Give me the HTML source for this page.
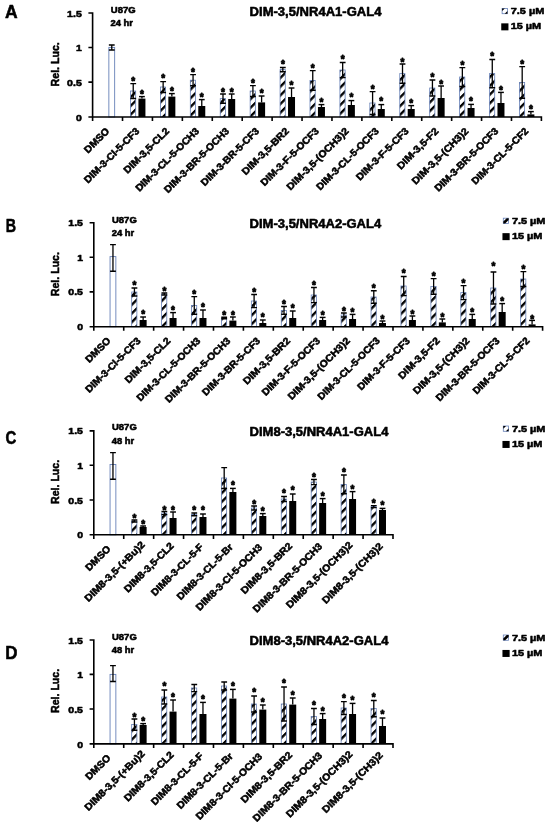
<!DOCTYPE html>
<html><head><meta charset="utf-8"><title>Figure</title>
<style>
html,body{margin:0;padding:0;background:#fff}
svg{display:block}
text{font-family:"Liberation Sans",sans-serif;font-weight:700;fill:#000;stroke:#000;stroke-width:.55;stroke-linejoin:round}
.ax{stroke:#000;stroke-width:1.6;fill:none}
.eb{stroke:#000;stroke-width:1.45;fill:none}
.ev{stroke:#000;stroke-width:1.3;fill:none}
.st{stroke:#000;stroke-width:.8}
</style></head><body>
<svg width="550" height="825" viewBox="0 0 550 825">
<defs>
<pattern id="h" patternUnits="userSpaceOnUse" width="6.15" height="6.15" patternTransform="rotate(45)"><rect width="6.15" height="6.15" fill="#fff"/><rect width="2.35" height="6.15" fill="#000"/></pattern>
</defs>
<rect width="550" height="825" fill="#fff"/>
<text x="5.00" y="18.30" font-size="17.5" text-anchor="start">A</text>
<text x="249.60" y="16.30" font-size="12.3" text-anchor="start" textLength="131.80" lengthAdjust="spacingAndGlyphs">DIM-3,5/NR4A1-GAL4</text>
<rect x="502.10" y="8.40" width="5.3" height="5.3" fill="#fff" stroke="#6781b8" stroke-width="0.8"/>
<path d="M502.10 8.40h2.7l-2.7 2.7zM507.40 13.70h-2.7l2.7 -2.7z" fill="#000"/>
<rect x="501.25" y="23.35" width="7.2" height="7.0" fill="#000"/>
<text x="510.70" y="14.20" font-size="9.5" text-anchor="start" textLength="33.56" lengthAdjust="spacingAndGlyphs">7.5 µM</text>
<text x="510.70" y="29.30" font-size="9.5" text-anchor="start" textLength="30.50" lengthAdjust="spacingAndGlyphs">15 µM</text>
<text x="110.80" y="13.20" font-size="8.9" text-anchor="start" textLength="24.76" lengthAdjust="spacingAndGlyphs">U87G</text>
<text x="110.60" y="26.30" font-size="8.9" text-anchor="start" textLength="22.39" lengthAdjust="spacingAndGlyphs">24 hr</text>
<text transform="translate(58.90,86.40) rotate(-90)" font-size="11.1" textLength="44.16" lengthAdjust="spacingAndGlyphs">Rel. Luc.</text>
<text x="81.80" y="16.65" font-size="9.5" text-anchor="end" textLength="14.67" lengthAdjust="spacingAndGlyphs">1.5</text>
<text x="81.80" y="51.10" font-size="9.5" text-anchor="end" textLength="5.81" lengthAdjust="spacingAndGlyphs">1</text>
<text x="81.80" y="85.75" font-size="9.5" text-anchor="end" textLength="14.67" lengthAdjust="spacingAndGlyphs">0.5</text>
<text x="81.80" y="120.60" font-size="9.5" text-anchor="end" textLength="5.81" lengthAdjust="spacingAndGlyphs">0</text>
<rect x="108.86" y="47.40" width="5.8" height="69.60" fill="#fff" stroke="#6781b8" stroke-width="0.9"/>
<path d="M111.76 45.00V50.00" class="ev"/><path d="M108.86 45.00h5.8M108.86 50.00h5.8" class="eb"/>
<rect x="130.48" y="91.00" width="5.2" height="26.00" fill="url(#h)" stroke="#6781b8" stroke-width="0.8"/>
<path d="M133.23 83.60V98.40" class="ev"/>
<path d="M130.33 83.60h5.8M130.33 98.40h5.8" class="eb"/>
<text x="133.23" y="84.85" font-size="10" text-anchor="middle" class="st">*</text>
<rect x="138.43" y="98.60" width="7.0" height="18.40" fill="#000"/>
<path d="M141.93 96.60V98.60" class="ev"/>
<path d="M139.03 96.60h5.8" class="eb"/>
<text x="141.93" y="98.25" font-size="10" text-anchor="middle" class="st">*</text>
<rect x="160.40" y="87.00" width="5.2" height="30.00" fill="url(#h)" stroke="#6781b8" stroke-width="0.8"/>
<path d="M163.15 81.60V92.40" class="ev"/>
<path d="M160.25 81.60h5.8M160.25 92.40h5.8" class="eb"/>
<text x="163.15" y="82.45" font-size="10" text-anchor="middle" class="st">*</text>
<rect x="168.35" y="96.60" width="7.0" height="20.40" fill="#000"/>
<path d="M171.85 93.60V96.60" class="ev"/>
<path d="M168.95 93.60h5.8" class="eb"/>
<text x="171.85" y="94.85" font-size="10" text-anchor="middle" class="st">*</text>
<rect x="190.32" y="80.20" width="5.2" height="36.80" fill="url(#h)" stroke="#6781b8" stroke-width="0.8"/>
<path d="M193.07 74.60V85.80" class="ev"/>
<path d="M190.17 74.60h5.8M190.17 85.80h5.8" class="eb"/>
<text x="193.07" y="76.15" font-size="10" text-anchor="middle" class="st">*</text>
<rect x="198.27" y="106.00" width="7.0" height="11.00" fill="#000"/>
<path d="M201.77 99.60V106.00" class="ev"/>
<path d="M198.87 99.60h5.8" class="eb"/>
<text x="201.77" y="101.25" font-size="10" text-anchor="middle" class="st">*</text>
<rect x="220.24" y="98.60" width="5.2" height="18.40" fill="url(#h)" stroke="#6781b8" stroke-width="0.8"/>
<path d="M222.99 94.00V103.20" class="ev"/>
<path d="M220.09 94.00h5.8M220.09 103.20h5.8" class="eb"/>
<text x="222.99" y="95.85" font-size="10" text-anchor="middle" class="st">*</text>
<rect x="228.19" y="99.00" width="7.0" height="18.00" fill="#000"/>
<path d="M231.69 94.00V99.00" class="ev"/>
<path d="M228.79 94.00h5.8" class="eb"/>
<text x="231.69" y="95.85" font-size="10" text-anchor="middle" class="st">*</text>
<rect x="250.16" y="91.00" width="5.2" height="26.00" fill="url(#h)" stroke="#6781b8" stroke-width="0.8"/>
<path d="M252.91 85.60V96.40" class="ev"/>
<path d="M250.01 85.60h5.8M250.01 96.40h5.8" class="eb"/>
<text x="252.91" y="87.25" font-size="10" text-anchor="middle" class="st">*</text>
<rect x="258.11" y="102.40" width="7.0" height="14.60" fill="#000"/>
<path d="M261.61 96.00V102.40" class="ev"/>
<path d="M258.71 96.00h5.8" class="eb"/>
<text x="261.61" y="97.45" font-size="10" text-anchor="middle" class="st">*</text>
<rect x="280.08" y="69.60" width="5.2" height="47.40" fill="url(#h)" stroke="#6781b8" stroke-width="0.8"/>
<path d="M282.83 67.40V71.80" class="ev"/>
<path d="M279.93 67.40h5.8M279.93 71.80h5.8" class="eb"/>
<text x="282.83" y="68.35" font-size="10" text-anchor="middle" class="st">*</text>
<rect x="288.03" y="97.00" width="7.0" height="20.00" fill="#000"/>
<path d="M291.53 88.00V97.00" class="ev"/>
<path d="M288.63 88.00h5.8" class="eb"/>
<text x="291.53" y="89.45" font-size="10" text-anchor="middle" class="st">*</text>
<rect x="310.00" y="80.40" width="5.2" height="36.60" fill="url(#h)" stroke="#6781b8" stroke-width="0.8"/>
<path d="M312.75 70.60V90.20" class="ev"/>
<path d="M309.85 70.60h5.8M309.85 90.20h5.8" class="eb"/>
<text x="312.75" y="71.85" font-size="10" text-anchor="middle" class="st">*</text>
<rect x="317.95" y="107.00" width="7.0" height="10.00" fill="#000"/>
<path d="M321.45 104.60V107.00" class="ev"/>
<path d="M318.55 104.60h5.8" class="eb"/>
<text x="321.45" y="106.45" font-size="10" text-anchor="middle" class="st">*</text>
<rect x="339.92" y="70.00" width="5.2" height="47.00" fill="url(#h)" stroke="#6781b8" stroke-width="0.8"/>
<path d="M342.67 62.40V77.60" class="ev"/>
<path d="M339.77 62.40h5.8M339.77 77.60h5.8" class="eb"/>
<text x="342.67" y="62.85" font-size="10" text-anchor="middle" class="st">*</text>
<rect x="347.87" y="105.00" width="7.0" height="12.00" fill="#000"/>
<path d="M351.37 100.60V105.00" class="ev"/>
<path d="M348.47 100.60h5.8" class="eb"/>
<text x="351.37" y="100.85" font-size="10" text-anchor="middle" class="st">*</text>
<rect x="369.84" y="103.00" width="5.2" height="14.00" fill="url(#h)" stroke="#6781b8" stroke-width="0.8"/>
<path d="M372.59 91.60V114.40" class="ev"/>
<path d="M369.69 91.60h5.8M369.69 114.40h5.8" class="eb"/>
<text x="372.59" y="93.25" font-size="10" text-anchor="middle" class="st">*</text>
<rect x="377.79" y="109.00" width="7.0" height="8.00" fill="#000"/>
<path d="M381.29 104.60V109.00" class="ev"/>
<path d="M378.39 104.60h5.8" class="eb"/>
<text x="381.29" y="105.45" font-size="10" text-anchor="middle" class="st">*</text>
<rect x="399.76" y="73.60" width="5.2" height="43.40" fill="url(#h)" stroke="#6781b8" stroke-width="0.8"/>
<path d="M402.51 64.00V83.20" class="ev"/>
<path d="M399.61 64.00h5.8M399.61 83.20h5.8" class="eb"/>
<text x="402.51" y="65.85" font-size="10" text-anchor="middle" class="st">*</text>
<rect x="407.71" y="109.00" width="7.0" height="8.00" fill="#000"/>
<path d="M411.21 105.60V109.00" class="ev"/>
<path d="M408.31 105.60h5.8" class="eb"/>
<text x="411.21" y="106.85" font-size="10" text-anchor="middle" class="st">*</text>
<rect x="429.68" y="88.00" width="5.2" height="29.00" fill="url(#h)" stroke="#6781b8" stroke-width="0.8"/>
<path d="M432.43 80.00V96.00" class="ev"/>
<path d="M429.53 80.00h5.8M429.53 96.00h5.8" class="eb"/>
<text x="432.43" y="81.45" font-size="10" text-anchor="middle" class="st">*</text>
<rect x="437.63" y="98.00" width="7.0" height="19.00" fill="#000"/>
<path d="M441.13 86.00V98.00" class="ev"/>
<path d="M438.23 86.00h5.8" class="eb"/>
<text x="441.13" y="87.85" font-size="10" text-anchor="middle" class="st">*</text>
<rect x="459.60" y="77.00" width="5.2" height="40.00" fill="url(#h)" stroke="#6781b8" stroke-width="0.8"/>
<path d="M462.35 67.60V86.40" class="ev"/>
<path d="M459.45 67.60h5.8M459.45 86.40h5.8" class="eb"/>
<text x="462.35" y="69.25" font-size="10" text-anchor="middle" class="st">*</text>
<rect x="467.55" y="108.00" width="7.0" height="9.00" fill="#000"/>
<path d="M471.05 104.40V108.00" class="ev"/>
<path d="M468.15 104.40h5.8" class="eb"/>
<text x="471.05" y="105.45" font-size="10" text-anchor="middle" class="st">*</text>
<rect x="489.52" y="73.60" width="5.2" height="43.40" fill="url(#h)" stroke="#6781b8" stroke-width="0.8"/>
<path d="M492.27 59.40V87.80" class="ev"/>
<path d="M489.37 59.40h5.8M489.37 87.80h5.8" class="eb"/>
<text x="492.27" y="60.45" font-size="10" text-anchor="middle" class="st">*</text>
<rect x="497.47" y="103.00" width="7.0" height="14.00" fill="#000"/>
<path d="M500.97 92.40V103.00" class="ev"/>
<path d="M498.07 92.40h5.8" class="eb"/>
<text x="500.97" y="93.85" font-size="10" text-anchor="middle" class="st">*</text>
<rect x="519.44" y="82.40" width="5.2" height="34.60" fill="url(#h)" stroke="#6781b8" stroke-width="0.8"/>
<path d="M522.19 66.60V98.20" class="ev"/>
<path d="M519.29 66.60h5.8M519.29 98.20h5.8" class="eb"/>
<text x="522.19" y="67.85" font-size="10" text-anchor="middle" class="st">*</text>
<rect x="527.39" y="114.40" width="7.0" height="2.60" fill="#000"/>
<path d="M530.89 111.60V114.40" class="ev"/>
<path d="M527.99 111.60h5.8" class="eb"/>
<text x="530.89" y="113.45" font-size="10" text-anchor="middle" class="st">*</text>
<path d="M92.60 12.25V121.10M88.40 117.00H542.20M88.40 82.15H92.60M88.40 47.50H92.60M88.40 13.05H92.60M122.52 117.00v4.1M152.44 117.00v4.1M182.36 117.00v4.1M212.28 117.00v4.1M242.20 117.00v4.1M272.12 117.00v4.1M302.04 117.00v4.1M331.96 117.00v4.1M361.88 117.00v4.1M391.80 117.00v4.1M421.72 117.00v4.1M451.64 117.00v4.1M481.56 117.00v4.1M511.48 117.00v4.1M541.40 117.00v4.1" class="ax"/>
<text transform="translate(110.06,131.70) rotate(-45)" font-size="9.8" text-anchor="end" textLength="31.04" lengthAdjust="spacingAndGlyphs">DMSO</text>
<text transform="translate(139.98,131.70) rotate(-45)" font-size="9.8" text-anchor="end" textLength="73.46" lengthAdjust="spacingAndGlyphs">DIM-3-Cl-5-CF3</text>
<text transform="translate(169.90,131.70) rotate(-45)" font-size="9.8" text-anchor="end" textLength="59.83" lengthAdjust="spacingAndGlyphs">DIM-3,5-CL2</text>
<text transform="translate(199.82,131.70) rotate(-45)" font-size="9.8" text-anchor="end" textLength="85.45" lengthAdjust="spacingAndGlyphs">DIM-3-CL-5-OCH3</text>
<text transform="translate(229.74,131.70) rotate(-45)" font-size="9.8" text-anchor="end" textLength="87.45" lengthAdjust="spacingAndGlyphs">DIM-3-BR-5-OCH3</text>
<text transform="translate(259.66,131.70) rotate(-45)" font-size="9.8" text-anchor="end" textLength="77.54" lengthAdjust="spacingAndGlyphs">DIM-3-BR-5-CF3</text>
<text transform="translate(289.58,131.70) rotate(-45)" font-size="9.8" text-anchor="end" textLength="61.83" lengthAdjust="spacingAndGlyphs">DIM-3,5-BR2</text>
<text transform="translate(319.50,131.70) rotate(-45)" font-size="9.8" text-anchor="end" textLength="77.68" lengthAdjust="spacingAndGlyphs">DIM-3-F-5-OCF3</text>
<text transform="translate(349.42,131.70) rotate(-45)" font-size="9.8" text-anchor="end" textLength="83.40" lengthAdjust="spacingAndGlyphs">DIM-3,5-(OCH3)2</text>
<text transform="translate(379.34,131.70) rotate(-45)" font-size="9.8" text-anchor="end" textLength="83.44" lengthAdjust="spacingAndGlyphs">DIM-3-CL-5-OCF3</text>
<text transform="translate(409.26,131.70) rotate(-45)" font-size="9.8" text-anchor="end" textLength="69.77" lengthAdjust="spacingAndGlyphs">DIM-3-F-5-CF3</text>
<text transform="translate(439.18,131.70) rotate(-45)" font-size="9.8" text-anchor="end" textLength="54.07" lengthAdjust="spacingAndGlyphs">DIM-3,5-F2</text>
<text transform="translate(469.10,131.70) rotate(-45)" font-size="9.8" text-anchor="end" textLength="75.49" lengthAdjust="spacingAndGlyphs">DIM-3,5-(CH3)2</text>
<text transform="translate(499.02,131.70) rotate(-45)" font-size="9.8" text-anchor="end" textLength="85.45" lengthAdjust="spacingAndGlyphs">DIM-3-BR-5-OCF3</text>
<text transform="translate(528.94,131.70) rotate(-45)" font-size="9.8" text-anchor="end" textLength="75.54" lengthAdjust="spacingAndGlyphs">DIM-3-CL-5-CF2</text>
<text x="5.80" y="231.60" font-size="17.5" text-anchor="start" textLength="10.30" lengthAdjust="spacingAndGlyphs">B</text>
<text x="249.60" y="227.70" font-size="12.3" text-anchor="start" textLength="131.60" lengthAdjust="spacingAndGlyphs">DIM-3,5/NR4A2-GAL4</text>
<rect x="503.30" y="218.20" width="5.3" height="5.3" fill="#fff" stroke="#6781b8" stroke-width="0.8"/>
<path d="M503.30 223.50v-1.9l3.40 -3.40h1.9v1.9l-3.40 3.40z" fill="#000"/>
<rect x="502.45" y="233.15" width="7.2" height="7.0" fill="#000"/>
<text x="511.90" y="224.00" font-size="9.5" text-anchor="start" textLength="33.56" lengthAdjust="spacingAndGlyphs">7.5 µM</text>
<text x="511.90" y="239.10" font-size="9.5" text-anchor="start" textLength="30.50" lengthAdjust="spacingAndGlyphs">15 µM</text>
<text x="112.00" y="222.60" font-size="8.9" text-anchor="start" textLength="24.76" lengthAdjust="spacingAndGlyphs">U87G</text>
<text x="111.80" y="235.90" font-size="8.9" text-anchor="start" textLength="22.39" lengthAdjust="spacingAndGlyphs">24 hr</text>
<text transform="translate(58.90,296.20) rotate(-90)" font-size="11.1" textLength="44.16" lengthAdjust="spacingAndGlyphs">Rel. Luc.</text>
<text x="83.00" y="226.35" font-size="9.5" text-anchor="end" textLength="14.67" lengthAdjust="spacingAndGlyphs">1.5</text>
<text x="83.00" y="260.80" font-size="9.5" text-anchor="end" textLength="5.81" lengthAdjust="spacingAndGlyphs">1</text>
<text x="83.00" y="295.45" font-size="9.5" text-anchor="end" textLength="14.67" lengthAdjust="spacingAndGlyphs">0.5</text>
<text x="83.00" y="330.30" font-size="9.5" text-anchor="end" textLength="5.81" lengthAdjust="spacingAndGlyphs">0</text>
<rect x="110.06" y="256.60" width="5.8" height="70.10" fill="#fff" stroke="#6781b8" stroke-width="0.9"/>
<path d="M112.96 244.60V271.20" class="ev"/><path d="M110.06 244.60h5.8M110.06 271.20h5.8" class="eb"/>
<rect x="131.68" y="292.00" width="5.2" height="34.70" fill="url(#h)" stroke="#6781b8" stroke-width="0.8"/>
<path d="M134.43 288.00V296.00" class="ev"/>
<path d="M131.53 288.00h5.8M131.53 296.00h5.8" class="eb"/>
<text x="134.43" y="289.45" font-size="10" text-anchor="middle" class="st">*</text>
<rect x="139.63" y="320.00" width="7.0" height="6.70" fill="#000"/>
<path d="M143.13 317.00V320.00" class="ev"/>
<path d="M140.23 317.00h5.8" class="eb"/>
<text x="143.13" y="318.45" font-size="10" text-anchor="middle" class="st">*</text>
<rect x="161.60" y="294.00" width="5.2" height="32.70" fill="url(#h)" stroke="#6781b8" stroke-width="0.8"/>
<path d="M164.35 293.00V295.00" class="ev"/>
<path d="M161.45 293.00h5.8M161.45 295.00h5.8" class="eb"/>
<text x="164.35" y="294.85" font-size="10" text-anchor="middle" class="st">*</text>
<rect x="169.55" y="318.00" width="7.0" height="8.70" fill="#000"/>
<path d="M173.05 312.60V318.00" class="ev"/>
<path d="M170.15 312.60h5.8" class="eb"/>
<text x="173.05" y="314.25" font-size="10" text-anchor="middle" class="st">*</text>
<rect x="191.52" y="305.40" width="5.2" height="21.30" fill="url(#h)" stroke="#6781b8" stroke-width="0.8"/>
<path d="M194.27 296.60V314.20" class="ev"/>
<path d="M191.37 296.60h5.8M191.37 314.20h5.8" class="eb"/>
<text x="194.27" y="298.45" font-size="10" text-anchor="middle" class="st">*</text>
<rect x="199.47" y="318.00" width="7.0" height="8.70" fill="#000"/>
<path d="M202.97 310.00V318.00" class="ev"/>
<path d="M200.07 310.00h5.8" class="eb"/>
<text x="202.97" y="311.25" font-size="10" text-anchor="middle" class="st">*</text>
<rect x="221.44" y="318.00" width="5.2" height="8.70" fill="url(#h)" stroke="#6781b8" stroke-width="0.8"/>
<path d="M224.19 317.30V318.70" class="ev"/>
<path d="M221.29 317.30h5.8M221.29 318.70h5.8" class="eb"/>
<text x="224.19" y="319.45" font-size="10" text-anchor="middle" class="st">*</text>
<rect x="229.39" y="320.60" width="7.0" height="6.10" fill="#000"/>
<path d="M232.89 317.00V320.60" class="ev"/>
<path d="M229.99 317.00h5.8" class="eb"/>
<text x="232.89" y="318.85" font-size="10" text-anchor="middle" class="st">*</text>
<rect x="251.36" y="301.00" width="5.2" height="25.70" fill="url(#h)" stroke="#6781b8" stroke-width="0.8"/>
<path d="M254.11 294.40V307.60" class="ev"/>
<path d="M251.21 294.40h5.8M251.21 307.60h5.8" class="eb"/>
<text x="254.11" y="295.85" font-size="10" text-anchor="middle" class="st">*</text>
<rect x="259.31" y="323.00" width="7.0" height="3.70" fill="#000"/>
<path d="M262.81 320.00V323.00" class="ev"/>
<path d="M259.91 320.00h5.8" class="eb"/>
<text x="262.81" y="320.85" font-size="10" text-anchor="middle" class="st">*</text>
<rect x="281.28" y="310.40" width="5.2" height="16.30" fill="url(#h)" stroke="#6781b8" stroke-width="0.8"/>
<path d="M284.03 306.50V314.30" class="ev"/>
<path d="M281.13 306.50h5.8M281.13 314.30h5.8" class="eb"/>
<text x="284.03" y="308.05" font-size="10" text-anchor="middle" class="st">*</text>
<rect x="289.23" y="318.00" width="7.0" height="8.70" fill="#000"/>
<path d="M292.73 311.00V318.00" class="ev"/>
<path d="M289.83 311.00h5.8" class="eb"/>
<text x="292.73" y="312.25" font-size="10" text-anchor="middle" class="st">*</text>
<rect x="311.20" y="295.00" width="5.2" height="31.70" fill="url(#h)" stroke="#6781b8" stroke-width="0.8"/>
<path d="M313.95 287.40V302.60" class="ev"/>
<path d="M311.05 287.40h5.8M311.05 302.60h5.8" class="eb"/>
<text x="313.95" y="288.85" font-size="10" text-anchor="middle" class="st">*</text>
<rect x="319.15" y="320.00" width="7.0" height="6.70" fill="#000"/>
<path d="M322.65 317.40V320.00" class="ev"/>
<path d="M319.75 317.40h5.8" class="eb"/>
<text x="322.65" y="318.85" font-size="10" text-anchor="middle" class="st">*</text>
<rect x="341.12" y="315.00" width="5.2" height="11.70" fill="url(#h)" stroke="#6781b8" stroke-width="0.8"/>
<path d="M343.87 313.00V317.00" class="ev"/>
<path d="M340.97 313.00h5.8M340.97 317.00h5.8" class="eb"/>
<text x="343.87" y="314.85" font-size="10" text-anchor="middle" class="st">*</text>
<rect x="349.07" y="319.00" width="7.0" height="7.70" fill="#000"/>
<path d="M352.57 314.40V319.00" class="ev"/>
<path d="M349.67 314.40h5.8" class="eb"/>
<text x="352.57" y="315.85" font-size="10" text-anchor="middle" class="st">*</text>
<rect x="371.04" y="297.00" width="5.2" height="29.70" fill="url(#h)" stroke="#6781b8" stroke-width="0.8"/>
<path d="M373.79 290.80V303.20" class="ev"/>
<path d="M370.89 290.80h5.8M370.89 303.20h5.8" class="eb"/>
<text x="373.79" y="292.25" font-size="10" text-anchor="middle" class="st">*</text>
<rect x="378.99" y="323.00" width="7.0" height="3.70" fill="#000"/>
<path d="M382.49 321.00V323.00" class="ev"/>
<path d="M379.59 321.00h5.8" class="eb"/>
<text x="382.49" y="322.85" font-size="10" text-anchor="middle" class="st">*</text>
<rect x="400.96" y="286.00" width="5.2" height="40.70" fill="url(#h)" stroke="#6781b8" stroke-width="0.8"/>
<path d="M403.71 276.40V295.60" class="ev"/>
<path d="M400.81 276.40h5.8M400.81 295.60h5.8" class="eb"/>
<text x="403.71" y="277.45" font-size="10" text-anchor="middle" class="st">*</text>
<rect x="408.91" y="320.00" width="7.0" height="6.70" fill="#000"/>
<path d="M412.41 316.00V320.00" class="ev"/>
<path d="M409.51 316.00h5.8" class="eb"/>
<text x="412.41" y="317.85" font-size="10" text-anchor="middle" class="st">*</text>
<rect x="430.88" y="286.40" width="5.2" height="40.30" fill="url(#h)" stroke="#6781b8" stroke-width="0.8"/>
<path d="M433.63 278.60V294.20" class="ev"/>
<path d="M430.73 278.60h5.8M430.73 294.20h5.8" class="eb"/>
<text x="433.63" y="279.85" font-size="10" text-anchor="middle" class="st">*</text>
<rect x="438.83" y="322.40" width="7.0" height="4.30" fill="#000"/>
<path d="M442.33 319.00V322.40" class="ev"/>
<path d="M439.43 319.00h5.8" class="eb"/>
<text x="442.33" y="320.85" font-size="10" text-anchor="middle" class="st">*</text>
<rect x="460.80" y="292.60" width="5.2" height="34.10" fill="url(#h)" stroke="#6781b8" stroke-width="0.8"/>
<path d="M463.55 285.60V299.60" class="ev"/>
<path d="M460.65 285.60h5.8M460.65 299.60h5.8" class="eb"/>
<text x="463.55" y="287.35" font-size="10" text-anchor="middle" class="st">*</text>
<rect x="468.75" y="319.00" width="7.0" height="7.70" fill="#000"/>
<path d="M472.25 314.40V319.00" class="ev"/>
<path d="M469.35 314.40h5.8" class="eb"/>
<text x="472.25" y="315.85" font-size="10" text-anchor="middle" class="st">*</text>
<rect x="490.72" y="288.00" width="5.2" height="38.70" fill="url(#h)" stroke="#6781b8" stroke-width="0.8"/>
<path d="M493.47 272.00V304.00" class="ev"/>
<path d="M490.57 272.00h5.8M490.57 304.00h5.8" class="eb"/>
<text x="493.47" y="270.25" font-size="10" text-anchor="middle" class="st">*</text>
<rect x="498.67" y="312.00" width="7.0" height="14.70" fill="#000"/>
<path d="M502.17 303.60V312.00" class="ev"/>
<path d="M499.27 303.60h5.8" class="eb"/>
<text x="502.17" y="305.25" font-size="10" text-anchor="middle" class="st">*</text>
<rect x="520.64" y="279.00" width="5.2" height="47.70" fill="url(#h)" stroke="#6781b8" stroke-width="0.8"/>
<path d="M523.39 271.60V286.40" class="ev"/>
<path d="M520.49 271.60h5.8M520.49 286.40h5.8" class="eb"/>
<text x="523.39" y="272.85" font-size="10" text-anchor="middle" class="st">*</text>
<rect x="528.59" y="324.40" width="7.0" height="2.30" fill="#000"/>
<path d="M532.09 320.40V324.40" class="ev"/>
<path d="M529.19 320.40h5.8" class="eb"/>
<text x="532.09" y="322.85" font-size="10" text-anchor="middle" class="st">*</text>
<path d="M93.80 221.95V330.80M89.60 326.70H543.40M89.60 291.85H93.80M89.60 257.20H93.80M89.60 222.75H93.80M123.72 326.70v4.1M153.64 326.70v4.1M183.56 326.70v4.1M213.48 326.70v4.1M243.40 326.70v4.1M273.32 326.70v4.1M303.24 326.70v4.1M333.16 326.70v4.1M363.08 326.70v4.1M393.00 326.70v4.1M422.92 326.70v4.1M452.84 326.70v4.1M482.76 326.70v4.1M512.68 326.70v4.1M542.60 326.70v4.1" class="ax"/>
<text transform="translate(111.26,341.40) rotate(-45)" font-size="9.8" text-anchor="end" textLength="31.04" lengthAdjust="spacingAndGlyphs">DMSO</text>
<text transform="translate(141.18,341.40) rotate(-45)" font-size="9.8" text-anchor="end" textLength="73.46" lengthAdjust="spacingAndGlyphs">DIM-3-Cl-5-CF3</text>
<text transform="translate(171.10,341.40) rotate(-45)" font-size="9.8" text-anchor="end" textLength="59.83" lengthAdjust="spacingAndGlyphs">DIM-3,5-CL2</text>
<text transform="translate(201.02,341.40) rotate(-45)" font-size="9.8" text-anchor="end" textLength="85.45" lengthAdjust="spacingAndGlyphs">DIM-3-CL-5-OCH3</text>
<text transform="translate(230.94,341.40) rotate(-45)" font-size="9.8" text-anchor="end" textLength="87.45" lengthAdjust="spacingAndGlyphs">DIM-3-BR-5-OCH3</text>
<text transform="translate(260.86,341.40) rotate(-45)" font-size="9.8" text-anchor="end" textLength="77.54" lengthAdjust="spacingAndGlyphs">DIM-3-BR-5-CF3</text>
<text transform="translate(290.78,341.40) rotate(-45)" font-size="9.8" text-anchor="end" textLength="61.83" lengthAdjust="spacingAndGlyphs">DIM-3,5-BR2</text>
<text transform="translate(320.70,341.40) rotate(-45)" font-size="9.8" text-anchor="end" textLength="77.68" lengthAdjust="spacingAndGlyphs">DIM-3-F-5-OCF3</text>
<text transform="translate(350.62,341.40) rotate(-45)" font-size="9.8" text-anchor="end" textLength="83.40" lengthAdjust="spacingAndGlyphs">DIM-3,5-(OCH3)2</text>
<text transform="translate(380.54,341.40) rotate(-45)" font-size="9.8" text-anchor="end" textLength="83.44" lengthAdjust="spacingAndGlyphs">DIM-3-CL-5-OCF3</text>
<text transform="translate(410.46,341.40) rotate(-45)" font-size="9.8" text-anchor="end" textLength="69.77" lengthAdjust="spacingAndGlyphs">DIM-3-F-5-CF3</text>
<text transform="translate(440.38,341.40) rotate(-45)" font-size="9.8" text-anchor="end" textLength="54.07" lengthAdjust="spacingAndGlyphs">DIM-3,5-F2</text>
<text transform="translate(470.30,341.40) rotate(-45)" font-size="9.8" text-anchor="end" textLength="75.49" lengthAdjust="spacingAndGlyphs">DIM-3,5-(CH3)2</text>
<text transform="translate(500.22,341.40) rotate(-45)" font-size="9.8" text-anchor="end" textLength="85.45" lengthAdjust="spacingAndGlyphs">DIM-3-BR-5-OCF3</text>
<text transform="translate(530.14,341.40) rotate(-45)" font-size="9.8" text-anchor="end" textLength="75.54" lengthAdjust="spacingAndGlyphs">DIM-3-CL-5-CF2</text>
<text x="5.40" y="444.20" font-size="17.5" text-anchor="start" textLength="10.80" lengthAdjust="spacingAndGlyphs">C</text>
<text x="249.60" y="435.50" font-size="12.3" text-anchor="start" textLength="138.80" lengthAdjust="spacingAndGlyphs">DIM8-3,5/NR4A1-GAL4</text>
<rect x="503.30" y="426.00" width="5.3" height="5.3" fill="#fff" stroke="#6781b8" stroke-width="0.8"/>
<path d="M503.30 426.00h2.7l-2.7 2.7zM508.60 431.30h-2.7l2.7 -2.7z" fill="#000"/>
<rect x="502.45" y="440.95" width="7.2" height="7.0" fill="#000"/>
<text x="511.90" y="431.80" font-size="9.5" text-anchor="start" textLength="33.56" lengthAdjust="spacingAndGlyphs">7.5 µM</text>
<text x="511.90" y="446.90" font-size="9.5" text-anchor="start" textLength="30.50" lengthAdjust="spacingAndGlyphs">15 µM</text>
<text x="112.00" y="429.80" font-size="8.9" text-anchor="start" textLength="24.76" lengthAdjust="spacingAndGlyphs">U87G</text>
<text x="111.80" y="443.80" font-size="8.9" text-anchor="start" textLength="22.39" lengthAdjust="spacingAndGlyphs">48 hr</text>
<text transform="translate(58.90,504.00) rotate(-90)" font-size="11.1" textLength="44.16" lengthAdjust="spacingAndGlyphs">Rel. Luc.</text>
<text x="83.00" y="434.45" font-size="9.5" text-anchor="end" textLength="14.67" lengthAdjust="spacingAndGlyphs">1.5</text>
<text x="83.00" y="468.90" font-size="9.5" text-anchor="end" textLength="5.81" lengthAdjust="spacingAndGlyphs">1</text>
<text x="83.00" y="503.55" font-size="9.5" text-anchor="end" textLength="14.67" lengthAdjust="spacingAndGlyphs">0.5</text>
<text x="83.00" y="538.40" font-size="9.5" text-anchor="end" textLength="5.81" lengthAdjust="spacingAndGlyphs">0</text>
<rect x="110.06" y="464.50" width="5.8" height="70.30" fill="#fff" stroke="#6781b8" stroke-width="0.9"/>
<path d="M112.96 452.60V479.20" class="ev"/><path d="M110.06 452.60h5.8M110.06 479.20h5.8" class="eb"/>
<rect x="131.68" y="521.00" width="5.2" height="13.80" fill="url(#h)" stroke="#6781b8" stroke-width="0.8"/>
<path d="M134.43 520.00V522.00" class="ev"/>
<path d="M131.53 520.00h5.8M131.53 522.00h5.8" class="eb"/>
<text x="134.43" y="522.25" font-size="10" text-anchor="middle" class="st">*</text>
<rect x="139.63" y="527.00" width="7.0" height="7.80" fill="#000"/>
<path d="M143.13 526.00V527.00" class="ev"/>
<path d="M140.23 526.00h5.8" class="eb"/>
<text x="143.13" y="527.85" font-size="10" text-anchor="middle" class="st">*</text>
<rect x="161.60" y="513.00" width="5.2" height="21.80" fill="url(#h)" stroke="#6781b8" stroke-width="0.8"/>
<path d="M164.35 511.40V514.60" class="ev"/>
<path d="M161.45 511.40h5.8M161.45 514.60h5.8" class="eb"/>
<text x="164.35" y="513.85" font-size="10" text-anchor="middle" class="st">*</text>
<rect x="169.55" y="518.00" width="7.0" height="16.80" fill="#000"/>
<path d="M173.05 512.00V518.00" class="ev"/>
<path d="M170.15 512.00h5.8" class="eb"/>
<text x="173.05" y="513.85" font-size="10" text-anchor="middle" class="st">*</text>
<rect x="191.52" y="514.40" width="5.2" height="20.40" fill="url(#h)" stroke="#6781b8" stroke-width="0.8"/>
<path d="M194.27 513.00V515.80" class="ev"/>
<path d="M191.37 513.00h5.8M191.37 515.80h5.8" class="eb"/>
<text x="194.27" y="514.45" font-size="10" text-anchor="middle" class="st">*</text>
<rect x="199.47" y="517.00" width="7.0" height="17.80" fill="#000"/>
<path d="M202.97 514.00V517.00" class="ev"/>
<path d="M200.07 514.00h5.8" class="eb"/>
<text x="202.97" y="514.45" font-size="10" text-anchor="middle" class="st">*</text>
<rect x="221.44" y="478.00" width="5.2" height="56.80" fill="url(#h)" stroke="#6781b8" stroke-width="0.8"/>
<path d="M224.19 467.60V488.40" class="ev"/>
<path d="M221.29 467.60h5.8M221.29 488.40h5.8" class="eb"/>
<rect x="229.39" y="492.00" width="7.0" height="42.80" fill="#000"/>
<path d="M232.89 488.40V492.00" class="ev"/>
<path d="M229.99 488.40h5.8" class="eb"/>
<text x="232.89" y="488.85" font-size="10" text-anchor="middle" class="st">*</text>
<rect x="251.36" y="508.00" width="5.2" height="26.80" fill="url(#h)" stroke="#6781b8" stroke-width="0.8"/>
<path d="M254.11 506.00V510.00" class="ev"/>
<path d="M251.21 506.00h5.8M251.21 510.00h5.8" class="eb"/>
<text x="254.11" y="507.85" font-size="10" text-anchor="middle" class="st">*</text>
<rect x="259.31" y="516.00" width="7.0" height="18.80" fill="#000"/>
<path d="M262.81 513.60V516.00" class="ev"/>
<path d="M259.91 513.60h5.8" class="eb"/>
<text x="262.81" y="515.25" font-size="10" text-anchor="middle" class="st">*</text>
<rect x="281.28" y="499.00" width="5.2" height="35.80" fill="url(#h)" stroke="#6781b8" stroke-width="0.8"/>
<path d="M284.03 496.40V501.60" class="ev"/>
<path d="M281.13 496.40h5.8M281.13 501.60h5.8" class="eb"/>
<text x="284.03" y="497.45" font-size="10" text-anchor="middle" class="st">*</text>
<rect x="289.23" y="501.00" width="7.0" height="33.80" fill="#000"/>
<path d="M292.73 494.00V501.00" class="ev"/>
<path d="M289.83 494.00h5.8" class="eb"/>
<text x="292.73" y="494.45" font-size="10" text-anchor="middle" class="st">*</text>
<rect x="311.20" y="482.00" width="5.2" height="52.80" fill="url(#h)" stroke="#6781b8" stroke-width="0.8"/>
<path d="M313.95 479.40V484.60" class="ev"/>
<path d="M311.05 479.40h5.8M311.05 484.60h5.8" class="eb"/>
<text x="313.95" y="480.85" font-size="10" text-anchor="middle" class="st">*</text>
<rect x="319.15" y="503.00" width="7.0" height="31.80" fill="#000"/>
<path d="M322.65 498.60V503.00" class="ev"/>
<path d="M319.75 498.60h5.8" class="eb"/>
<text x="322.65" y="499.85" font-size="10" text-anchor="middle" class="st">*</text>
<rect x="341.12" y="484.40" width="5.2" height="50.40" fill="url(#h)" stroke="#6781b8" stroke-width="0.8"/>
<path d="M343.87 475.00V493.80" class="ev"/>
<path d="M340.97 475.00h5.8M340.97 493.80h5.8" class="eb"/>
<text x="343.87" y="475.85" font-size="10" text-anchor="middle" class="st">*</text>
<rect x="349.07" y="499.00" width="7.0" height="35.80" fill="#000"/>
<path d="M352.57 491.60V499.00" class="ev"/>
<path d="M349.67 491.60h5.8" class="eb"/>
<text x="352.57" y="492.85" font-size="10" text-anchor="middle" class="st">*</text>
<rect x="371.04" y="506.60" width="5.2" height="28.20" fill="url(#h)" stroke="#6781b8" stroke-width="0.8"/>
<path d="M373.79 505.60V507.60" class="ev"/>
<path d="M370.89 505.60h5.8M370.89 507.60h5.8" class="eb"/>
<text x="373.79" y="507.25" font-size="10" text-anchor="middle" class="st">*</text>
<rect x="378.99" y="510.00" width="7.0" height="24.80" fill="#000"/>
<path d="M382.49 508.40V510.00" class="ev"/>
<path d="M379.59 508.40h5.8" class="eb"/>
<text x="382.49" y="509.45" font-size="10" text-anchor="middle" class="st">*</text>
<path d="M93.80 430.05V538.90M89.60 534.80H393.80M89.60 499.95H93.80M89.60 465.30H93.80M89.60 430.85H93.80M123.72 534.80v4.1M153.64 534.80v4.1M183.56 534.80v4.1M213.48 534.80v4.1M243.40 534.80v4.1M273.32 534.80v4.1M303.24 534.80v4.1M333.16 534.80v4.1M363.08 534.80v4.1M393.00 534.80v4.1" class="ax"/>
<text transform="translate(111.26,549.50) rotate(-45)" font-size="9.8" text-anchor="end" textLength="31.04" lengthAdjust="spacingAndGlyphs">DMSO</text>
<text transform="translate(145.48,545.20) rotate(-45)" font-size="9.8" text-anchor="end" textLength="80.59" lengthAdjust="spacingAndGlyphs">DIM8-3,5-(+Bu)2</text>
<text transform="translate(174.40,546.40) rotate(-45)" font-size="9.8" text-anchor="end" textLength="65.77" lengthAdjust="spacingAndGlyphs">DIM8-3,5-CL2</text>
<text transform="translate(204.02,547.50) rotate(-45)" font-size="9.8" text-anchor="end" textLength="69.35" lengthAdjust="spacingAndGlyphs">DIM8-3-CL-5-F</text>
<text transform="translate(233.54,547.70) rotate(-45)" font-size="9.8" text-anchor="end" textLength="74.68" lengthAdjust="spacingAndGlyphs">DIM8-3-CL-5-Br</text>
<text transform="translate(262.86,548.00) rotate(-45)" font-size="9.8" text-anchor="end" textLength="89.31" lengthAdjust="spacingAndGlyphs">DIM8-3-Cl-5-OCH3</text>
<text transform="translate(292.78,546.50) rotate(-45)" font-size="9.8" text-anchor="end" textLength="67.77" lengthAdjust="spacingAndGlyphs">DIM8-3,5-BR2</text>
<text transform="translate(322.90,547.00) rotate(-45)" font-size="9.8" text-anchor="end" textLength="93.38" lengthAdjust="spacingAndGlyphs">DIM8-3-BR-5-OCH3</text>
<text transform="translate(353.22,545.70) rotate(-45)" font-size="9.8" text-anchor="end" textLength="89.33" lengthAdjust="spacingAndGlyphs">DIM8-3,5-(OCH3)2</text>
<text transform="translate(383.54,546.80) rotate(-45)" font-size="9.8" text-anchor="end" textLength="81.42" lengthAdjust="spacingAndGlyphs">DIM8-3,5-(CH3)2</text>
<text x="5.20" y="658.60" font-size="17.5" text-anchor="start" textLength="12.20" lengthAdjust="spacingAndGlyphs">D</text>
<text x="249.60" y="644.60" font-size="12.3" text-anchor="start" textLength="138.80" lengthAdjust="spacingAndGlyphs">DIM8-3,5/NR4A2-GAL4</text>
<rect x="503.30" y="635.00" width="5.3" height="5.3" fill="#fff" stroke="#6781b8" stroke-width="0.8"/>
<path d="M503.30 640.30v-1.9l3.40 -3.40h1.9v1.9l-3.40 3.40z" fill="#000"/>
<rect x="502.45" y="649.95" width="7.2" height="7.0" fill="#000"/>
<text x="511.90" y="640.80" font-size="9.5" text-anchor="start" textLength="33.56" lengthAdjust="spacingAndGlyphs">7.5 µM</text>
<text x="511.90" y="655.90" font-size="9.5" text-anchor="start" textLength="30.50" lengthAdjust="spacingAndGlyphs">15 µM</text>
<text x="112.00" y="639.70" font-size="8.9" text-anchor="start" textLength="24.76" lengthAdjust="spacingAndGlyphs">U87G</text>
<text x="111.80" y="653.20" font-size="8.9" text-anchor="start" textLength="22.39" lengthAdjust="spacingAndGlyphs">48 hr</text>
<text transform="translate(58.90,713.00) rotate(-90)" font-size="11.1" textLength="44.16" lengthAdjust="spacingAndGlyphs">Rel. Luc.</text>
<text x="83.00" y="643.55" font-size="9.5" text-anchor="end" textLength="14.67" lengthAdjust="spacingAndGlyphs">1.5</text>
<text x="83.00" y="678.00" font-size="9.5" text-anchor="end" textLength="5.81" lengthAdjust="spacingAndGlyphs">1</text>
<text x="83.00" y="712.65" font-size="9.5" text-anchor="end" textLength="14.67" lengthAdjust="spacingAndGlyphs">0.5</text>
<text x="83.00" y="747.50" font-size="9.5" text-anchor="end" textLength="5.81" lengthAdjust="spacingAndGlyphs">0</text>
<rect x="110.06" y="674.40" width="5.8" height="69.50" fill="#fff" stroke="#6781b8" stroke-width="0.9"/>
<path d="M112.96 665.60V681.50" class="ev"/><path d="M110.06 665.60h5.8M110.06 681.50h5.8" class="eb"/>
<rect x="131.68" y="724.60" width="5.2" height="19.30" fill="url(#h)" stroke="#6781b8" stroke-width="0.8"/>
<path d="M134.43 719.00V730.20" class="ev"/>
<path d="M131.53 719.00h5.8M131.53 730.20h5.8" class="eb"/>
<text x="134.43" y="720.85" font-size="10" text-anchor="middle" class="st">*</text>
<rect x="139.63" y="725.00" width="7.0" height="18.90" fill="#000"/>
<path d="M143.13 723.60V725.00" class="ev"/>
<path d="M140.23 723.60h5.8" class="eb"/>
<text x="143.13" y="724.85" font-size="10" text-anchor="middle" class="st">*</text>
<rect x="161.60" y="697.00" width="5.2" height="46.90" fill="url(#h)" stroke="#6781b8" stroke-width="0.8"/>
<path d="M164.35 690.00V704.00" class="ev"/>
<path d="M161.45 690.00h5.8M161.45 704.00h5.8" class="eb"/>
<text x="164.35" y="690.45" font-size="10" text-anchor="middle" class="st">*</text>
<rect x="169.55" y="711.60" width="7.0" height="32.30" fill="#000"/>
<path d="M173.05 700.00V711.60" class="ev"/>
<path d="M170.15 700.00h5.8" class="eb"/>
<text x="173.05" y="701.45" font-size="10" text-anchor="middle" class="st">*</text>
<rect x="191.52" y="688.00" width="5.2" height="55.90" fill="url(#h)" stroke="#6781b8" stroke-width="0.8"/>
<path d="M194.27 684.40V691.60" class="ev"/>
<path d="M191.37 684.40h5.8M191.37 691.60h5.8" class="eb"/>
<rect x="199.47" y="714.00" width="7.0" height="29.90" fill="#000"/>
<path d="M202.97 702.40V714.00" class="ev"/>
<path d="M200.07 702.40h5.8" class="eb"/>
<text x="202.97" y="703.45" font-size="10" text-anchor="middle" class="st">*</text>
<rect x="221.44" y="686.00" width="5.2" height="57.90" fill="url(#h)" stroke="#6781b8" stroke-width="0.8"/>
<path d="M224.19 682.00V690.00" class="ev"/>
<path d="M221.29 682.00h5.8M221.29 690.00h5.8" class="eb"/>
<rect x="229.39" y="698.60" width="7.0" height="45.30" fill="#000"/>
<path d="M232.89 689.40V698.60" class="ev"/>
<path d="M229.99 689.40h5.8" class="eb"/>
<text x="232.89" y="690.45" font-size="10" text-anchor="middle" class="st">*</text>
<rect x="251.36" y="704.00" width="5.2" height="39.90" fill="url(#h)" stroke="#6781b8" stroke-width="0.8"/>
<path d="M254.11 696.00V712.00" class="ev"/>
<path d="M251.21 696.00h5.8M251.21 712.00h5.8" class="eb"/>
<text x="254.11" y="696.45" font-size="10" text-anchor="middle" class="st">*</text>
<rect x="259.31" y="709.60" width="7.0" height="34.30" fill="#000"/>
<path d="M262.81 705.00V709.60" class="ev"/>
<path d="M259.91 705.00h5.8" class="eb"/>
<text x="262.81" y="705.85" font-size="10" text-anchor="middle" class="st">*</text>
<rect x="281.28" y="704.00" width="5.2" height="39.90" fill="url(#h)" stroke="#6781b8" stroke-width="0.8"/>
<path d="M284.03 687.00V721.00" class="ev"/>
<path d="M281.13 687.00h5.8M281.13 721.00h5.8" class="eb"/>
<text x="284.03" y="687.45" font-size="10" text-anchor="middle" class="st">*</text>
<rect x="289.23" y="704.60" width="7.0" height="39.30" fill="#000"/>
<path d="M292.73 698.00V704.60" class="ev"/>
<path d="M289.83 698.00h5.8" class="eb"/>
<text x="292.73" y="698.85" font-size="10" text-anchor="middle" class="st">*</text>
<rect x="311.20" y="716.40" width="5.2" height="27.50" fill="url(#h)" stroke="#6781b8" stroke-width="0.8"/>
<path d="M313.95 708.40V724.40" class="ev"/>
<path d="M311.05 708.40h5.8M311.05 724.40h5.8" class="eb"/>
<text x="313.95" y="709.45" font-size="10" text-anchor="middle" class="st">*</text>
<rect x="319.15" y="719.00" width="7.0" height="24.90" fill="#000"/>
<path d="M322.65 713.60V719.00" class="ev"/>
<path d="M319.75 713.60h5.8" class="eb"/>
<text x="322.65" y="714.85" font-size="10" text-anchor="middle" class="st">*</text>
<rect x="341.12" y="708.00" width="5.2" height="35.90" fill="url(#h)" stroke="#6781b8" stroke-width="0.8"/>
<path d="M343.87 701.60V714.40" class="ev"/>
<path d="M340.97 701.60h5.8M340.97 714.40h5.8" class="eb"/>
<text x="343.87" y="702.25" font-size="10" text-anchor="middle" class="st">*</text>
<rect x="349.07" y="714.00" width="7.0" height="29.90" fill="#000"/>
<path d="M352.57 703.40V714.00" class="ev"/>
<path d="M349.67 703.40h5.8" class="eb"/>
<text x="352.57" y="703.85" font-size="10" text-anchor="middle" class="st">*</text>
<rect x="371.04" y="708.60" width="5.2" height="35.30" fill="url(#h)" stroke="#6781b8" stroke-width="0.8"/>
<path d="M373.79 700.40V716.80" class="ev"/>
<path d="M370.89 700.40h5.8M370.89 716.80h5.8" class="eb"/>
<text x="373.79" y="701.45" font-size="10" text-anchor="middle" class="st">*</text>
<rect x="378.99" y="726.00" width="7.0" height="17.90" fill="#000"/>
<path d="M382.49 718.00V726.00" class="ev"/>
<path d="M379.59 718.00h5.8" class="eb"/>
<text x="382.49" y="718.25" font-size="10" text-anchor="middle" class="st">*</text>
<path d="M93.80 639.15V748.00M89.60 743.90H393.80M89.60 709.05H93.80M89.60 674.40H93.80M89.60 639.95H93.80M123.72 743.90v4.1M153.64 743.90v4.1M183.56 743.90v4.1M213.48 743.90v4.1M243.40 743.90v4.1M273.32 743.90v4.1M303.24 743.90v4.1M333.16 743.90v4.1M363.08 743.90v4.1M393.00 743.90v4.1" class="ax"/>
<text transform="translate(111.26,758.60) rotate(-45)" font-size="9.8" text-anchor="end" textLength="31.04" lengthAdjust="spacingAndGlyphs">DMSO</text>
<text transform="translate(145.48,754.30) rotate(-45)" font-size="9.8" text-anchor="end" textLength="80.59" lengthAdjust="spacingAndGlyphs">DIM8-3,5-(+Bu)2</text>
<text transform="translate(174.40,755.50) rotate(-45)" font-size="9.8" text-anchor="end" textLength="65.77" lengthAdjust="spacingAndGlyphs">DIM8-3,5-CL2</text>
<text transform="translate(204.02,756.60) rotate(-45)" font-size="9.8" text-anchor="end" textLength="69.35" lengthAdjust="spacingAndGlyphs">DIM8-3-CL-5-F</text>
<text transform="translate(233.54,756.80) rotate(-45)" font-size="9.8" text-anchor="end" textLength="74.68" lengthAdjust="spacingAndGlyphs">DIM8-3-CL-5-Br</text>
<text transform="translate(262.86,757.10) rotate(-45)" font-size="9.8" text-anchor="end" textLength="89.31" lengthAdjust="spacingAndGlyphs">DIM8-3-Cl-5-OCH3</text>
<text transform="translate(292.78,755.60) rotate(-45)" font-size="9.8" text-anchor="end" textLength="67.77" lengthAdjust="spacingAndGlyphs">DIM8-3,5-BR2</text>
<text transform="translate(322.90,756.10) rotate(-45)" font-size="9.8" text-anchor="end" textLength="93.38" lengthAdjust="spacingAndGlyphs">DIM8-3-BR-5-OCH3</text>
<text transform="translate(353.22,754.80) rotate(-45)" font-size="9.8" text-anchor="end" textLength="89.33" lengthAdjust="spacingAndGlyphs">DIM8-3,5-(OCH3)2</text>
<text transform="translate(383.54,755.90) rotate(-45)" font-size="9.8" text-anchor="end" textLength="81.42" lengthAdjust="spacingAndGlyphs">DIM8-3,5-(CH3)2</text>
</svg></body></html>
